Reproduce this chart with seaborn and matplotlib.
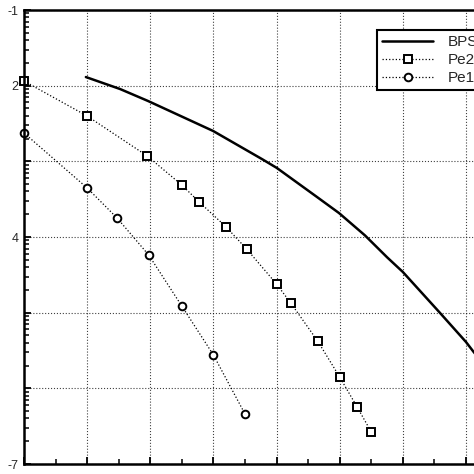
import matplotlib
matplotlib.use('Agg')
import matplotlib.pyplot as plt
import seaborn as sns
from matplotlib.ticker import LogLocator, NullFormatter, FixedLocator

# data (x in grid units of 2, y = error probability)
bps_x = [1.96, 3.04, 3.93, 5.99, 7.54, 8.01, 9.28, 9.98, 10.8, 11.5, 12.0, 13.18, 14.0, 14.25, 14.6]
bps_y = [1.30e-2, 9.04e-3, 6.27e-3, 2.52e-3, 1.07e-3, 8.17e-4, 3.38e-4, 2.07e-4, 1.05e-4,
         5.4e-5, 3.45e-5, 9.9e-6, 4.1e-6, 3.0e-6, 2.0e-6]

pe2_x = [0.0, 2.0, 3.9, 5.0, 5.55, 6.4, 7.05, 8.0, 8.45, 9.3, 10.0, 10.55, 11.0]
pe2_y = [1.15e-2, 3.97e-3, 1.18e-3, 4.86e-4, 2.90e-4, 1.36e-4, 6.95e-5, 2.39e-5,
         1.34e-5, 4.23e-6, 1.41e-6, 5.68e-7, 2.65e-7]

pe1_x = [0.0, 2.0, 2.95, 3.95, 5.0, 6.0, 7.0]
pe1_y = [2.37e-3, 4.45e-4, 1.78e-4, 5.78e-5, 1.22e-5, 2.76e-6, 4.58e-7]

legend_labels = ['BPSK', 'Pe2', 'Pe1']
ytick_vals = [1e-1, 1e-2, 1e-3, 1e-4, 1e-5, 1e-6, 1e-7]
ytick_text = ['-1', '2', '', '4', '', '', '-7']

sns.set_theme(style='white')
plt.rcParams['font.family'] = ['Liberation Sans', 'DejaVu Sans']

fig = plt.figure(figsize=(4.74, 4.74), dpi=100)
ax = fig.add_axes([24 / 474, 10 / 474, 14.5 * 31.57 / 474, 454 / 474])

sns.lineplot(x=bps_x, y=bps_y, ax=ax, color='black', linewidth=1.8,
             label=legend_labels[0], sort=False)
sns.lineplot(x=pe2_x, y=pe2_y, ax=ax, color='black', linewidth=0.9, linestyle=':',
             marker='s', markersize=5.5, markerfacecolor='white', markeredgecolor='black',
             markeredgewidth=1.4, label=legend_labels[1], sort=False, clip_on=False)
sns.lineplot(x=pe1_x, y=pe1_y, ax=ax, color='black', linewidth=0.9, linestyle=':',
             marker='o', markersize=5.5, markerfacecolor='white', markeredgecolor='black',
             markeredgewidth=1.4, label=legend_labels[2], sort=False, clip_on=False)

ax.set_yscale('log')
ax.set_ylim(1e-7, 1e-1)
ax.set_xlim(0, 14.5)

ax.yaxis.set_major_locator(FixedLocator(ytick_vals))
ax.set_yticklabels(ytick_text, fontsize=9)
ax.yaxis.set_minor_locator(LogLocator(base=10, subs=range(2, 10), numticks=20))
ax.yaxis.set_minor_formatter(NullFormatter())
ax.set_xticks(range(0, 15, 2))
ax.set_xticks(range(1, 15, 2), minor=True)
ax.set_xticklabels([])

ax.tick_params(axis='both', which='major', direction='in', length=5, width=1.3,
               color='black', pad=4, left=True, bottom=True)
ax.tick_params(axis='both', which='minor', direction='in', length=3.5, width=1.1,
               color='black', left=True, bottom=True)

ax.grid(True, which='major', linestyle=':', color='black', linewidth=0.8, alpha=0.75)
for side in ['left', 'bottom', 'top']:
    ax.spines[side].set_color('black')
    ax.spines[side].set_linewidth(1.8)
ax.spines['right'].set_visible(False)

leg = ax.legend(loc='upper left', bbox_to_anchor=(377 / 474, 1 - 30 / 474),
                bbox_transform=fig.transFigure, fancybox=False, framealpha=1,
                edgecolor='black', fontsize=11, handlelength=3.3, handletextpad=1.0,
                borderpad=0.35, labelspacing=0.25, borderaxespad=0)
leg.get_frame().set_linewidth(1.5)

ax.set_xlabel('')
ax.set_ylabel('')

fig.savefig('out.png', dpi=100)
plt.close(fig)
